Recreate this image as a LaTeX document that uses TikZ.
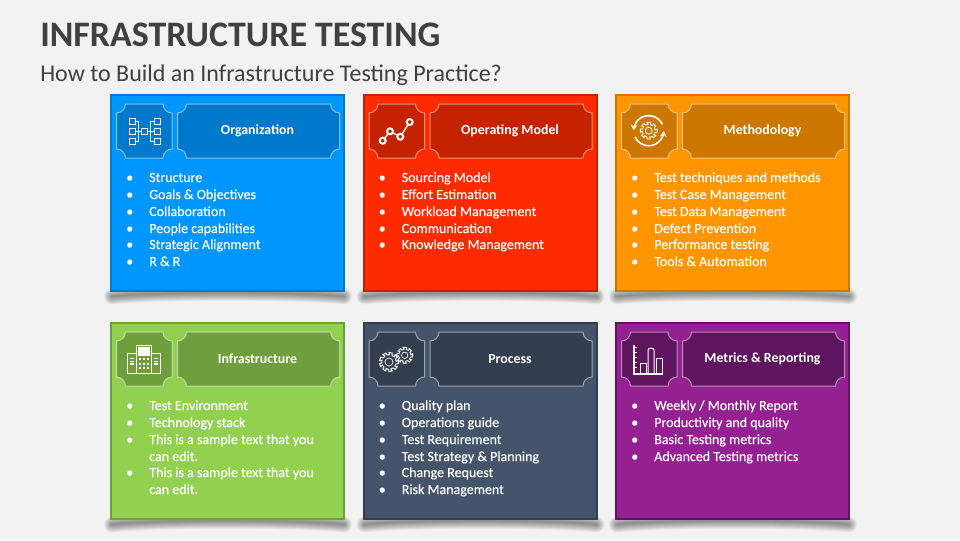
\documentclass[tikz,border=0pt]{standalone}
\usepackage{fontspec}
\setmainfont{Carlito}
\usetikzlibrary{arrows.meta}
\definecolor{slidebg}{HTML}{F2F2F2}
\definecolor{titlegray}{HTML}{404040}
\definecolor{orgfill}{HTML}{0096FF}
\definecolor{orgdark}{HTML}{0078CC}
\definecolor{opfill}{HTML}{FF2B00}
\definecolor{opdark}{HTML}{C52200}
\definecolor{methfill}{HTML}{FF9500}
\definecolor{methdark}{HTML}{CC7700}
\definecolor{infrafill}{HTML}{92D050}
\definecolor{infradark}{HTML}{6F9E3F}
\definecolor{procfill}{HTML}{44546A}
\definecolor{procdark}{HTML}{333F50}
\definecolor{metrfill}{HTML}{942092}
\definecolor{metrdark}{HTML}{5E145E}
\tikzset{
  cardnode/.style={draw=#1, line width=1.6pt, anchor=north west, minimum width=175pt, minimum height=147pt, inner sep=0pt},
  headnode/.style={text=white, font=\fontsize{10.4}{12}\selectfont\bfseries, inner sep=0pt},
  listnode/.style={text=white, anchor=base west, font=\fontsize{10.5}{12}\selectfont\addfontfeature{FakeBold=0.25}, inner sep=0pt},
  iconline/.style={draw=white, line width=0.75pt},
}
% concave cornered plate, x1 y1 x2 y2 fill
\newcommand{\plate}[5]{\draw[draw=white, draw opacity=0.5, line width=0.75pt, fill=#5]
  (#1+9,#2) -- (#3-9,#2) .. controls (#3-9,#2+5) and (#3-5,#2+9) .. (#3,#2+9)
  -- (#3,#4-9) .. controls (#3-5,#4-9) and (#3-9,#4-5) .. (#3-9,#4)
  -- (#1+9,#4) .. controls (#1+9,#4-5) and (#1+5,#4-9) .. (#1,#4-9)
  -- (#1,#2+9) .. controls (#1+5,#2+9) and (#1+9,#2+5) .. (#1+9,#2) -- cycle;}
% soft shadow under a card, x1 y x2
\newcommand{\cardshadow}[3]{\foreach \w in {1,2,...,12} {
  \draw[black, opacity=0.04, line cap=round, line width=\w pt]
    (#1+2,#2+6) .. controls (#1+40,#2+1) and (#3-40,#2+1) .. (#3,#2+6);}}
% name x y fill dark label
\newcommand{\card}[6]{
  \cardshadow{#2}{#3+197}{#2+234}
  \node[cardnode=#5, fill=#4] (#1) at (#2,#3) {};
  \plate{#2+6.5}{#3+10.5}{#2+62}{#3+64.5}{#5}
  \plate{#2+67.5}{#3+10.5}{#2+229.5}{#3+64.5}{#5}
  \node[headnode] (#1head) at (#2+147.5,#3+37.5) {#6};}
% name x y text
\newcommand{\listline}[4]{
  \node[listnode] (#1dot) at (#2+16,#3) {•};
  \node[listnode] (#1) at (#2+39,#3) {#4};}
\newcommand{\listrest}[4]{\node[listnode] (#1) at (#2+39,#3) {#4};}
\newcommand{\orgbox}[2]{\draw[iconline] (#1,#2) rectangle (#1+6,#2+6);}
\newcommand{\gearicon}[5]{\draw[iconline, line width=#5] (#1+#3,#2)
  \foreach \t in {0,...,#4} {
    -- ({#1+#3*cos(360*\t/(#4+1)+90/(#4+1))},{#2+#3*sin(360*\t/(#4+1)+90/(#4+1))})
    -- ({#1+#3*.76*cos(360*\t/(#4+1)+130/(#4+1))},{#2+#3*.76*sin(360*\t/(#4+1)+130/(#4+1))})
    -- ({#1+#3*.76*cos(360*\t/(#4+1)+310/(#4+1))},{#2+#3*.76*sin(360*\t/(#4+1)+310/(#4+1))})
    -- ({#1+#3*cos(360*(\t+1)/(#4+1)-90/(#4+1))},{#2+#3*sin(360*(\t+1)/(#4+1)-90/(#4+1))})
  } -- cycle;}

\begin{document}
\begin{tikzpicture}[x=0.75pt, y=-0.75pt]
        \fill[slidebg] (0,0) rectangle (960,540);
        \useasboundingbox (0,0) rectangle (960,540);
        % title
        \node[anchor=base west, inner sep=0pt, text=titlegray, font=\fontsize{26.9}{32}\selectfont\bfseries] (title) at (40,46) {INFRASTRUCTURE TESTING};
        \node[anchor=base west, inner sep=0pt, text=titlegray, font=\fontsize{18}{20}\selectfont] (subtitle) at (40,81) {How to Build an Infrastructure Testing Practice?};
        % row1 cards
        \card{org}{110}{93.5}{orgfill}{orgdark}{Organization}
        \card{oper}{362.5}{93.5}{opfill}{opdark}{Operating Model}
        \card{meth}{615}{93.5}{methfill}{methdark}{Methodology}
        % row2 cards
        \card{infra}{110}{321.5}{infrafill}{infradark}{Infrastructure}
        \card{proc}{362.5}{321.5}{procfill}{procdark}{Process}
        \card{metr}{615}{321.5}{metrfill}{metrdark}{Metrics \& Reporting}
        % list for organization
        \listline{orgA}{110}{182}{Structure}
        \listline{orgB}{110}{199}{Goals \& Objectives}
        \listline{orgC}{110}{216}{Collaboration}
        \listline{orgD}{110}{233}{People capabilities}
        \listline{orgE}{110}{249}{Strategic Alignment}
        \listline{orgF}{110}{266}{R \& R}
        % list for operating model
        \listline{operA}{362.5}{182}{Sourcing Model}
        \listline{operB}{362.5}{199}{Effort Estimation}
        \listline{operC}{362.5}{216}{Workload Management}
        \listline{operD}{362.5}{233}{Communication}
        \listline{operE}{362.5}{249}{Knowledge Management}
        % list for methodology
        \listline{methA}{615}{182}{Test techniques and methods}
        \listline{methB}{615}{199}{Test Case Management}
        \listline{methC}{615}{216}{Test Data Management}
        \listline{methD}{615}{233}{Defect Prevention}
        \listline{methE}{615}{249}{Performance testing}
        \listline{methF}{615}{266}{Tools \& Automation}
        % list for infrastructure
        \listline{infraA}{110}{410}{Test Environment}
        \listline{infraB}{110}{427}{Technology stack}
        \listline{infraC}{110}{444}{This is a sample text that you}
        \listrest{infraCr}{110}{461}{can edit.}
        \listline{infraD}{110}{477}{This is a sample text that you}
        \listrest{infraDr}{110}{494}{can edit.}
        % list for process
        \listline{procA}{362.5}{410}{Quality plan}
        \listline{procB}{362.5}{427}{Operations guide}
        \listline{procC}{362.5}{444}{Test Requirement}
        \listline{procD}{362.5}{461}{Test Strategy \& Planning}
        \listline{procE}{362.5}{477}{Change Request}
        \listline{procF}{362.5}{494}{Risk Management}
        % list for metrics
        \listline{metrA}{615}{410}{Weekly / Monthly Report}
        \listline{metrB}{615}{427}{Productivity and quality}
        \listline{metrC}{615}{444}{Basic Testing metrics}
        \listline{metrD}{615}{461}{Advanced Testing metrics}
        % icon organization
        \orgbox{129.3}{118.3}
        \orgbox{129.3}{128.3}
        \orgbox{129.3}{138.3}
        \orgbox{141.7}{128.3}
        \orgbox{154}{118.3}
        \orgbox{154}{128.3}
        \orgbox{154}{138.3}
        \draw[iconline] (135.3,121.3) -- (138.5,121.3) -- (138.5,141.3) -- (135.3,141.3);
        \draw[iconline] (135.3,131.3) -- (141.7,131.3);
        \draw[iconline] (154,121.3) -- (150.8,121.3) -- (150.8,141.3) -- (154,141.3);
        \draw[iconline] (147.7,131.3) -- (154,131.3);
        % icon operating model
        \draw[iconline, line width=1pt] (382.7,140.7) -- (390,131.3) -- (400.3,136.7) -- (409.7,122);
        \draw[iconline, line width=1.5pt, fill=opdark] (382.7,140.7) circle (3);
        \draw[iconline, line width=1.5pt, fill=opdark] (390,131.3) circle (3);
        \draw[iconline, line width=1.5pt, fill=opdark] (400.3,136.7) circle (3);
        \draw[iconline, line width=1.5pt, fill=opdark] (409.7,122) circle (3);
        % icon methodology
        \draw[iconline, line width=1.2pt, -{Stealth[length=4pt,width=5pt]}] plot[smooth, domain=-25:-178, samples=24] ({648.7+15*cos(\x)},{130.7+15*sin(\x)});
        \draw[iconline, line width=1.2pt, -{Stealth[length=4pt,width=5pt]}] plot[smooth, domain=155:2, samples=24] ({648.7+15*cos(\x)},{130.7+15*sin(\x)});
        \gearicon{648.7}{130.7}{8.5}{7}{0.6pt}
        \draw[iconline, line width=0.6pt] (648.7,130.7) circle (3.5);
        % icon infrastructure
        \draw[iconline] (136.3,345.3) rectangle (151.7,373.3);
        \draw[iconline, fill=white] (138.7,347.5) rectangle (149.7,355.3);
        \draw[iconline] (127.3,353.3) rectangle (136.3,373.3);
        \draw[iconline] (151.7,353.3) rectangle (160.7,373.3);
        \foreach \cx in {140,144,148} {
          \foreach \cy in {359.3,363.7,368} {
            \fill[white] (\cx-1,\cy-1) rectangle (\cx+1,\cy+1);
          }
        }
        \foreach \cy in {358.7,361.3,364} {
          \draw[iconline, line width=1pt] (129.7,\cy) -- (134,\cy);
          \draw[iconline, line width=1pt] (153.7,\cy) -- (158,\cy);
        }
        % icon process
        \gearicon{389}{362}{9.5}{8}{0.7pt}
        \draw[iconline, line width=0.5pt] (389,362) circle (4);
        \gearicon{404.7}{355.3}{8}{7}{0.7pt}
        \draw[iconline, line width=0.5pt] (404.7,355.3) circle (3.2);
        % icon metrics
        \draw[iconline, line width=1.2pt] (634,344.7) -- (634,373.7) -- (663,373.7);
        \draw[iconline] (634,347.3) -- (637,347.3);
        \draw[iconline] (634,352) -- (637,352);
        \draw[iconline] (634,357) -- (637,357);
        \draw[iconline] (634,362) -- (637,362);
        \draw[iconline] (634,367) -- (637,367);
        \draw[iconline] (640.3,373.7) -- (640.3,363) -- (646,363) -- (646,373.7);
        \draw[iconline] (648,373.7) -- (648,350) .. controls (648,347.5) and (654,347.5) .. (654,350) -- (654,373.7);
        \draw[iconline] (656,373.7) -- (656,358) -- (662,358) -- (662,373.7);
\end{tikzpicture}
\end{document}
